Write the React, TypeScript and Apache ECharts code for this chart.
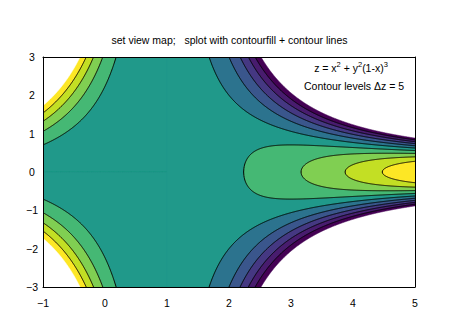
import React, { useEffect, useRef } from 'react';
import * as echarts from 'echarts';

const TITLE = 'set view map;   splot with contourfill + contour lines';
// key line 1: z = x^2 + y^2(1-x)^3, as [text, isSuperscript] pieces
const KEY_FORMULA: [string, boolean][] = [
  ['z = x', false], ['2', true], [' + y', false], ['2', true], ['(1-x)', false], ['3', true],
];
const KEY_LEVELS = 'Contour levels Δz = 5';

const X_TICKS = [-1, 0, 1, 2, 3, 4, 5];
const X_TICK_LABELS = ['−1', '0', '1', '2', '3', '4', '5'];
const Y_TICKS = [-3, -2, -1, 0, 1, 2, 3];
const Y_TICK_LABELS = ['−3', '−2', '−1', '0', '1', '2', '3'];

// z edges of the filled bands (step 5); outside them the plot is left blank
const BAND_EDGES = [-25, -20, -15, -10, -5, 0, 5, 10, 15, 20, 25];
// fill colour of each band [edge i, edge i+1]
const BAND_COLORS = [
  '#440154', '#481c6e', '#453882', '#3a568c', '#2c738e',
  '#20998a', '#45b874', '#80cf52', '#c3df24', '#fde725',
];
// levels where a contour line is drawn
const LINE_LEVELS = [-20, -15, -10, -5, 0, 5, 10, 15, 20];

// The plotted surface (as given in the chart key): z = x^2 + y^2 (1-x)^3.
// For a level L the contour is y^2 = q(x) = (L - x^2) / (1 - x)^3.
const qLeft = (L: number, x: number) => (L - x * x) / Math.pow(1 - x, 3); // x <= 1
const qRight = (L: number, x: number) => (x * x - L) / Math.pow(x - 1, 3); // x >= 1

const X_MIN = X_TICKS[0];
const X_MAX = X_TICKS[X_TICKS.length - 1];
const Y_MAX = Y_TICKS[Y_TICKS.length - 1];
const SPLIT = 1; // sign change of (1-x)^3
const STEP = 0.005;

function runs(x0: number, x1: number, pred: (x: number) => boolean): number[][] {
  const n = Math.max(2, Math.round((x1 - x0) / STEP));
  const xs: number[] = [];
  for (let i = 0; i <= n; i++) xs.push(i === n ? x1 : x0 + ((x1 - x0) * i) / n);
  const out: number[][] = [];
  let cur: number[] | null = null;
  let prev = pred(xs[0]);
  if (prev) cur = [xs[0]];
  for (let i = 1; i <= n; i++) {
    const v = pred(xs[i]);
    if (v !== prev) {
      let a = xs[i - 1];
      let b = xs[i];
      for (let k = 0; k < 45; k++) {
        const m = (a + b) / 2;
        if (pred(m) === prev) a = m;
        else b = m;
      }
      if (v) {
        cur = [b, xs[i]];
      } else {
        if (cur) {
          cur.push(a);
          out.push(cur);
        }
        cur = null;
      }
    } else if (v && cur) {
      cur.push(xs[i]);
    }
    prev = v;
  }
  if (cur) out.push(cur);
  return out;
}

type Shape = { kind: 'fill' | 'line'; color: string; pts: number[][] };

function buildShapes(): Shape[] {
  const shapes: Shape[] = [];
  const fillColors = [...BAND_COLORS, '#ffffff'];
  BAND_EDGES.forEach((L, i) => {
    const color = fillColors[i];
    const rl = (x: number) => {
      const q = qLeft(L, x);
      return q <= 0 ? 0 : Math.min(Y_MAX, Math.sqrt(q));
    };
    const rr = (x: number) => {
      const q = qRight(L, x);
      return q <= 0 ? 0 : Math.min(Y_MAX, Math.sqrt(q));
    };
    // x < 1 : z >= L where |y| >= r(x)
    for (const xs of runs(X_MIN, SPLIT, (x) => rl(x) < Y_MAX)) {
      const rev = xs.slice().reverse();
      shapes.push({ kind: 'fill', color, pts: [...xs.map((x) => [x, Y_MAX]), ...rev.map((x) => [x, rl(x)])] });
      shapes.push({ kind: 'fill', color, pts: [...xs.map((x) => [x, -Y_MAX]), ...rev.map((x) => [x, -rl(x)])] });
    }
    // x > 1 : z >= L where |y| <= r(x)
    for (const xs of runs(SPLIT, X_MAX, (x) => qRight(L, x) > 0)) {
      const rev = xs.slice().reverse();
      shapes.push({ kind: 'fill', color, pts: [...xs.map((x) => [x, rr(x)]), ...rev.map((x) => [x, -rr(x)])] });
    }
  });
  const ySq = Y_MAX * Y_MAX;
  LINE_LEVELS.forEach((L) => {
    for (const xs of runs(X_MIN, SPLIT, (x) => {
      const q = qLeft(L, x);
      return q > 0 && q < ySq;
    })) {
      const up = xs.map((x) => [x, Math.sqrt(Math.max(0, qLeft(L, x)))]);
      shapes.push({ kind: 'line', color: '#000', pts: up });
      shapes.push({ kind: 'line', color: '#000', pts: up.map(([x, y]) => [x, -y]) });
    }
    for (const xs of runs(SPLIT, X_MAX, (x) => {
      const q = qRight(L, x);
      return q > 0 && q < ySq;
    })) {
      const up = xs.map((x) => [x, Math.sqrt(Math.max(0, qRight(L, x)))]);
      const lo = up.map(([x, y]) => [x, -y]);
      if (up[0][1] < 0.05) {
        shapes.push({ kind: 'line', color: '#000', pts: [...lo.slice().reverse(), ...up] });
      } else {
        shapes.push({ kind: 'line', color: '#000', pts: up });
        shapes.push({ kind: 'line', color: '#000', pts: lo });
      }
    }
  });
  return shapes;
}

const FONT = '"Liberation Sans", Arial, sans-serif';
const FS = 10.5;

export default function App() {
  const ref = useRef<HTMLDivElement>(null);
  useEffect(() => {
    if (!ref.current) return;
    const chart = echarts.init(ref.current, null, { renderer: 'svg' });
    const shapes = buildShapes();
    const xLabel = (v: number) => X_TICK_LABELS[X_TICKS.indexOf(v)] ?? String(v);
    const yLabel = (v: number) => Y_TICK_LABELS[Y_TICKS.indexOf(v)] ?? String(v);
    const axisLine = { show: true, onZero: false, lineStyle: { color: '#000', width: 1 } };
    const formulaRich = KEY_FORMULA.map(([t, sup]) => `{${sup ? 's' : 'n'}|${t}}`).join('');
    chart.setOption({
      animation: false,
      backgroundColor: '#ffffff',
      title: {
        text: TITLE,
        left: 229.5,
        top: 34,
        textAlign: 'center',
        padding: 0,
        textStyle: { fontSize: FS, fontWeight: 'normal', color: '#000', fontFamily: FONT },
      },
      grid: { left: 43, right: 59, top: 57, bottom: 29, containLabel: false },
      xAxis: [
        {
          type: 'value', min: X_MIN, max: X_MAX, interval: 1, position: 'bottom', z: 10,
          axisLine, axisTick: { show: false }, splitLine: { show: false },
          axisLabel: { color: '#000', fontSize: FS, fontFamily: FONT, margin: 10, formatter: xLabel },
        },
        {
          type: 'value', min: X_MIN, max: X_MAX, interval: 1, position: 'top', z: 10,
          axisLine, axisTick: { show: false }, splitLine: { show: false }, axisLabel: { show: false },
        },
      ],
      yAxis: [
        {
          type: 'value', min: Y_TICKS[0], max: Y_MAX, interval: 1, position: 'left', z: 10,
          axisLine, axisTick: { show: false }, splitLine: { show: false },
          axisLabel: { color: '#000', fontSize: FS, fontFamily: FONT, margin: 11, align: 'center', formatter: yLabel },
        },
        {
          type: 'value', min: Y_TICKS[0], max: Y_MAX, interval: 1, position: 'right', z: 10,
          axisLine, axisTick: { show: false }, splitLine: { show: false }, axisLabel: { show: false },
        },
      ],
      series: [
        {
          type: 'custom',
          coordinateSystem: 'cartesian2d',
          xAxisIndex: 0,
          yAxisIndex: 0,
          clip: true,
          silent: true,
          data: shapes.map((_, i) => [0, 0, i]),
          renderItem: (params: any, api: any) => {
            const s = shapes[params.dataIndex];
            const points = s.pts.map((p) => api.coord(p));
            if (s.kind === 'fill') {
              return {
                type: 'polygon',
                shape: { points },
                style: { fill: s.color, stroke: s.color, lineWidth: 0.6, lineJoin: 'round' },
              };
            }
            return {
              type: 'polyline',
              shape: { points },
              style: { fill: 'none', stroke: s.color, lineWidth: 1, lineJoin: 'round' },
            };
          },
        },
      ],
      graphic: [
        {
          type: 'text', x: 351, y: 68, z: 20,
          style: {
            text: formulaRich,
            fill: '#000',
            align: 'center',
            verticalAlign: 'middle',
            rich: {
              n: { fontSize: FS, fontFamily: FONT, fill: '#000', lineHeight: 15, verticalAlign: 'middle' },
              s: { fontSize: 7.5, fontFamily: FONT, fill: '#000', lineHeight: 9, verticalAlign: 'top' },
            },
          },
        },
        {
          type: 'text', x: 354, y: 86, z: 20,
          style: { text: KEY_LEVELS, fontSize: FS, fontFamily: FONT, fill: '#000', align: 'center', verticalAlign: 'middle' },
        },
      ],
    });
    return () => chart.dispose();
  }, []);
  return <div ref={ref} style={{ position: 'fixed', left: 0, top: 0, width: 474, height: 316 }} />;
}
